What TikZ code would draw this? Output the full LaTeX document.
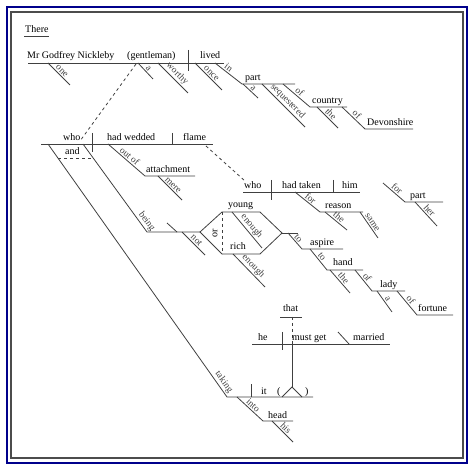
\documentclass[tikz,border=0pt]{standalone}
\usepackage{fontspec}
\setmainfont{Liberation Serif}
\begin{document}
\begin{tikzpicture}[x=1pt,y=-1pt,
    font=\fontsize{10}{12}\selectfont,
    ln/.style={line width=0.8pt,black!75},
    dashln/.style={ln,dashed,dash pattern=on 3pt off 3pt},
    wd/.style={anchor=base west,inner sep=0pt},
    md/.style={sloped,above,inner sep=1.3pt,font=\fontsize{9.5}{11}\selectfont}]
  \useasboundingbox (0,0) rectangle (474,470);
  % frame
  \draw[line width=2.2pt,blue!55!black] (7,7) rectangle (467,463);
  \draw[line width=1.4pt,black!70] (11,12) rectangle (463,458);

  % There
  \node[wd] (there) at (25,33) {There};
  \draw[ln] (24,36) -- (49,36);

  % main clause
  \coordinate (mainL) at (28,63);
  \coordinate (mainR) at (224,63);
  \draw[ln] (mainL) -- (mainR);
  \draw[ln] (188,50) -- (188,71);
  \node[wd] (subj) at (27,59) {Mr Godfrey Nickleby};
  \node[wd] (appos) at (127,59) {(gentleman)};
  \node[wd] (verb) at (200,59) {lived};
  \draw[ln] (48,63) -- node[md] {one} (70,85);
  \draw[ln] (138,63) -- node[md] {a} (153,79);
  \draw[ln] (158,63) -- node[md] {worthy} (188,93);
  \draw[ln] (195,63) -- node[md] {once} (222,90);
  \draw[ln] (215,63) -- node[md,pos=0.4] {in} (242,84) -- (295,84);
  \node[wd] (part) at (245,81) {part};
  \draw[ln] (243,84) -- node[md] {a} (258,98);
  \draw[ln] (262,84) -- node[md] {sequestered} (305,127);
  \draw[ln] (283,84) -- node[md] {of} (310,107) -- (347,107);
  \node[wd] (country) at (312,104) {country};
  \draw[ln] (317,107) -- node[md] {the} (338,128);
  \draw[ln] (342,107) -- node[md] {of} (365,129) -- (413,129);
  \node[wd] (devon) at (367,126) {Devonshire};

  % who had wedded flame
  \coordinate (whoL) at (41,144);
  \draw[ln] (whoL) -- (213,144);
  \draw[dashln] (136,64) -- (80,141);
  \draw[ln] (92,133) -- (92,152);
  \draw[ln] (172,133) -- (172,144);
  \node[wd] (who) at (63,141) {who};
  \node[wd] (wedded) at (107,141) {had wedded};
  \node[wd] (flame) at (183,141) {flame};
  \node[wd] (and) at (65,155) {and};
  \draw[dashln] (58,158) -- (93,158);
  \draw[ln] (108,144) -- node[md] {out of} (145,176) -- (195,176);
  \node[wd] (attach) at (146,173) {attachment};
  \draw[ln] (158,176) -- node[md] {mere} (182,200);

  % being not young enough or rich enough
  \coordinate (beingEnd) at (147,232);
  \draw[ln] (83,144) -- node[md,pos=0.92] {being} (beingEnd) -- (200,232);
  \draw[ln] (167,223) -- (177,232);
  \draw[ln] (182,232) -- node[md] {not} (205,255);
  \draw[ln] (200,232) -- (222,212) -- (260,212) -- (282,233)
    -- (260,254) -- (222,254) -- cycle;
  \draw[dashln] (222,212) -- (222,254);
  \node[rotate=90,inner sep=0pt] (or) at (215,233) {or};
  \node[wd] (young) at (228,208) {young};
  \node[wd] (rich) at (230,250) {rich};
  \draw[ln] (232,212) -- node[md] {enough} (262,248);
  \draw[ln] (233,254) -- node[md] {enough} (265,287);
  \draw[ln] (282,233) -- (298,233);
  \draw[ln] (288,233) -- node[md] {to} (302,249) -- (343,249);
  \node[wd] (aspire) at (310,246) {aspire};
  \draw[ln] (310,249) -- node[md] {to} (327,270) -- (363,270);
  \node[wd] (hand) at (333,266) {hand};
  \draw[ln] (330,270) -- node[md] {the} (350,293);
  \draw[ln] (355,270) -- node[md] {of} (372,291) -- (405,291);
  \node[wd] (lady) at (380,288) {lady};
  \draw[ln] (377,291) -- node[md] {a} (392,312);
  \draw[ln] (397,291) -- node[md] {of} (417,315) -- (453,315);
  \node[wd] (fortune) at (418,312) {fortune};

  % who had taken him
  \draw[dashln] (206,146) -- (245,181);
  \draw[ln] (243,192) -- (360,192);
  \draw[ln] (271,180) -- (271,200);
  \draw[ln] (333,180) -- (333,192);
  \node[wd] (who2) at (244,189) {who};
  \node[wd] (taken) at (282,189) {had taken};
  \node[wd] (him) at (342,189) {him};
  \draw[ln] (295,192) -- node[md] {for} (320,212) -- (363,212);
  \node[wd] (reason) at (325,209) {reason};
  \draw[ln] (325,212) -- node[md] {the} (347,230);
  \draw[ln] (360,212) -- node[md] {same} (378,238);
  \draw[ln] (383,183) -- node[md] {for} (405,202) -- (443,202);
  \node[wd] (part2) at (410,199) {part};
  \draw[ln] (415,202) -- node[md] {her} (437,226);

  % that he must get married
  \draw[ln] (280,317) -- (302,317);
  \node[wd] (that) at (283,312) {that};
  \draw[dashln] (292,317) -- (292,344);
  \draw[ln] (252,344) -- (390,344);
  \draw[ln] (282,332) -- (282,350);
  \draw[ln] (338,332) -- (349,344);
  \node[wd] (he) at (258,341) {he};
  \node[wd] (must) at (292,341) {must get};
  \node[wd] (married) at (353,341) {married};
  \draw[ln] (292,344) -- (292,387);
  \draw[ln] (282,397) -- (292,387) -- (302,397);

  % taking it into his head
  \coordinate (takingEnd) at (227,397);
  \draw[ln] (48,144) -- node[md,pos=0.955] {taking} (takingEnd) -- (313,397);
  \draw[ln] (251,384) -- (251,397);
  \node[wd] (it) at (261,394) {it};
  \node[wd] (lp) at (277,394) {(};
  \node[wd] (rp) at (305,394) {)};
  \draw[ln] (237,397) -- node[md] {into} (263,421) -- (293,421);
  \node[wd] (head) at (268,418) {head};
  \draw[ln] (272,421) -- node[md] {his} (293,442);
\end{tikzpicture}
\end{document}
